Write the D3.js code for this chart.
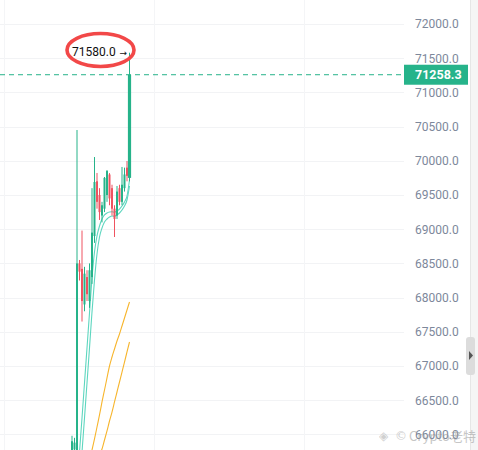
<!DOCTYPE html>
<html><head><meta charset="utf-8">
<script src="https://cdn.jsdelivr.net/npm/d3@7/dist/d3.min.js"></script>
<style>html,body{margin:0;padding:0;background:#fff;overflow:hidden}svg{display:block}</style>
</head><body>
<script>
// ---- data ----
const opens  = [65750,65780,65700,68500,68420,67900,68300,67950,68300,68900,69700,69500,69200,69300,69500,69800,69600,69300,69200,69600,69400,69600,69900,69750];
const highs  = [65980,65950,70450,68550,68980,68450,68400,68500,69600,70055,69822,69600,69400,69763,69865,69820,69650,69350,69632,69650,69910,69900,69997,71580];
const lows   = [65700,65720,65650,68250,67650,67800,67950,67850,68200,68800,69300,69135,69100,69250,69400,69350,69200,68886,69150,69350,69350,69550,69700,69700];
const closes = [65900,65880,68500,68380,67950,68350,68050,68400,68950,69690,69400,69250,69350,69750,69850,69450,69300,69150,69550,69400,69650,69800,69780,71258.3];
const maFast = [null,null,null,65743,66240,66751,67263,67775,68287,68667,68901,69047,69149,69208,69237,69251,69255,69248,69266,69295,69339,69398,69485,69719];
const maMid  = [null,null,null,null,65743,66240,66751,67263,67789,68257,68637,68886,69018,69105,69149,69178,69193,69190,69208,69237,69281,69339,69427,69632];
const maSlow1= [null,null,null,null,null,null,null,65626,65772,65933,66108,66284,66474,66649,66825,67000,67132,67249,67365,67468,67585,67702,67819,67936];
const maSlow2= [null,null,null,null,null,null,null,null,null,null,null,65699,65786,65918,66050,66196,66327,66474,66620,66766,66912,67058,67205,67351];
const yTicks = [66000,66500,67000,67500,68000,68500,69000,69500,70000,70500,71000,71500,72000];
const lastPrice = 71258.3;
const highMark = 71580.0;

const W = 478, H = 450;
const GREEN = "#26b38a", RED = "#ef5360";
const svg = d3.select("body").append("svg").attr("width", W).attr("height", H);

const plotRight = 404;
const x = d3.scaleLinear().domain([0, opens.length - 1]).range([72, 129.5]);
const y = d3.scaleLinear().domain([66000, 72000]).range([434.4, 24]);

const defs = svg.append("defs");
defs.append("clipPath").attr("id","plot").append("rect").attr("x",0).attr("y",0).attr("width",plotRight).attr("height",H);

// grid
const grid = svg.append("g");
grid.selectAll("line.h").data(yTicks).join("line")
  .attr("x1",0).attr("x2",plotRight).attr("y1",d=>Math.round(y(d))+0.5).attr("y2",d=>Math.round(y(d))+0.5)
  .attr("stroke","#f2f3f5");
grid.selectAll("line.v").data([4,154,304]).join("line")
  .attr("x1",d=>d+0.5).attr("x2",d=>d+0.5).attr("y1",0).attr("y2",H).attr("stroke","#f4f5f7");

const plot = svg.append("g").attr("clip-path","url(#plot)");

// MA lines
function drawMA(arr, color){
  const pts = arr.map((v,i)=>v==null?null:[i,v]).filter(Boolean);
  plot.append("path").datum(pts)
    .attr("d", d3.line().x(d=>x(d[0])).y(d=>y(d[1])).curve(d3.curveMonotoneX))
    .attr("fill","none").attr("stroke",color).attr("stroke-width",1.1);
}
drawMA(maSlow2, "#f7b52c");
drawMA(maSlow1, "#f7b52c");
drawMA(maMid, "#5dd6bf");
drawMA(maFast, "#5dd6bf");

// candles
const idx = d3.range(opens.length);
plot.selectAll("line.wick").data(idx).join("line")
  .attr("x1",i=>x(i)).attr("x2",i=>x(i))
  .attr("y1",i=>y(highs[i])).attr("y2",i=>y(lows[i]))
  .attr("stroke",i=>closes[i]>=opens[i]?GREEN:RED).attr("stroke-width",1);
plot.selectAll("rect.body").data(idx).join("rect")
  .attr("x",i=>x(i)-(i===opens.length-1?1.6:1))
  .attr("width",i=>i===opens.length-1?3.2:2)
  .attr("y",i=>y(Math.max(opens[i],closes[i])))
  .attr("height",i=>Math.max(1,Math.abs(y(opens[i])-y(closes[i]))))
  .attr("fill",i=>closes[i]>=opens[i]?GREEN:RED);

// last price dashed line
svg.append("line").attr("x1",0).attr("x2",plotRight).attr("y1",y(lastPrice)).attr("y2",y(lastPrice))
  .attr("stroke",GREEN).attr("stroke-dasharray","5,4").attr("stroke-width",1);

// price scale
svg.append("line").attr("x1",470.5).attr("x2",470.5).attr("y1",0).attr("y2",H).attr("stroke","#e6e6e6");
svg.append("rect").attr("x",471).attr("y",0).attr("width",7).attr("height",H).attr("fill","#f5f5f5");
svg.append("g").selectAll("text").data(yTicks).join("text")
  .attr("x",415).attr("y",d=>y(d)+4.3)
  .attr("font-family","Roboto, 'Liberation Sans', Arial, sans-serif").attr("font-size",12)
  .attr("fill","#7d889b").text(d=>d.toFixed(1));

// last price label
svg.append("rect").attr("x",404).attr("y",y(lastPrice)-10).attr("width",64).attr("height",20).attr("fill",GREEN);
svg.append("text").attr("x",415).attr("y",y(lastPrice)+4.5)
  .attr("font-family","Roboto, 'Liberation Sans', Arial, sans-serif").attr("font-size",12.5).attr("font-weight","bold")
  .attr("fill","#fff").text(lastPrice.toFixed(1));

// scroll tab
svg.append("rect").attr("x",466).attr("y",337).attr("width",9).attr("height",38).attr("rx",3).attr("fill","#dcdcdc");
svg.append("path").attr("d","M469,351 L473,355.5 L469,360 Z").attr("fill","#555");

// high annotation
svg.append("text").attr("x",72).attr("y",55.5)
  .attr("font-family","Roboto, 'Liberation Sans', Arial, sans-serif").attr("font-size",12)
  .attr("fill","#111").text(highMark.toFixed(1));
svg.append("text").attr("x",119.5).attr("y",55.5)
  .attr("font-family","'DejaVu Sans', sans-serif").attr("font-size",9)
  .attr("fill","#111").text("→");
svg.append("ellipse").attr("cx",100.5).attr("cy",50).attr("rx",33.5).attr("ry",16.5)
  .attr("fill","none").attr("stroke","#f24848").attr("stroke-width",3.6);

// watermark
const wm = svg.append("g").attr("opacity",0.55);
wm.append("text").attr("x",379).attr("y",440).attr("font-family","'DejaVu Sans', sans-serif").attr("font-size",12).attr("fill","#aaa").text("◈");
wm.append("text").attr("x",395).attr("y",440).attr("font-family","'DejaVu Sans', sans-serif").attr("font-size",12).attr("fill","#aaa").text("©");
wm.append("text").attr("x",409).attr("y",441).attr("font-family","'Noto Sans CJK SC', sans-serif").attr("font-size",13).attr("fill","#999").text("Crypto老特");
</script>
</body></html>
